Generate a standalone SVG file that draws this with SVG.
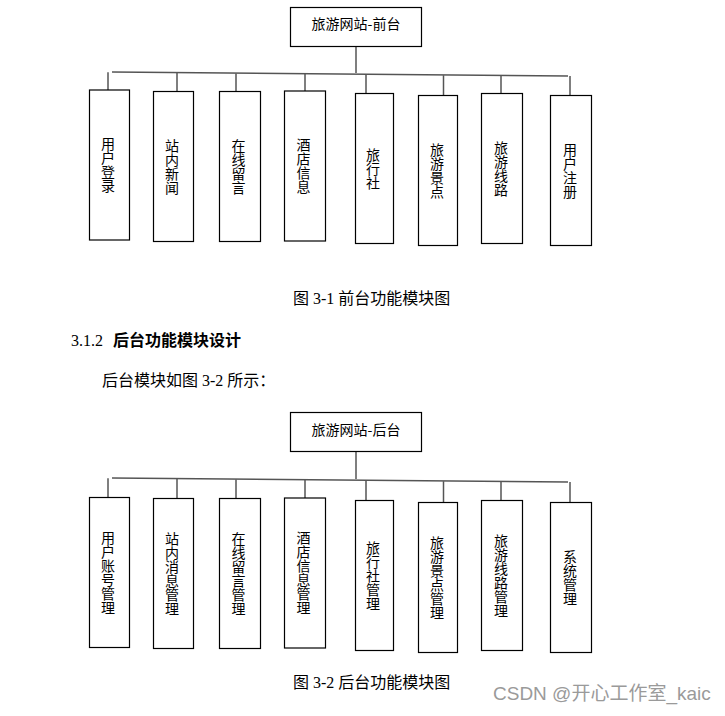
<svg xmlns="http://www.w3.org/2000/svg" width="725" height="716" viewBox="0 0 725 716">
<style>
  .box { fill: #fff; stroke: #000; stroke-width: 1.2; }
  .conn { stroke: #555; stroke-width: 1.5; fill: none; }
  .lbl { font-family: "Noto Sans CJK SC", "Liberation Sans", sans-serif; font-size: 14px; fill: #000; text-anchor: middle; }
  .vl { writing-mode: vertical-rl; }
  .cap { font-family: "Liberation Serif", "Noto Sans CJK SC", serif; font-size: 16px; fill: #000; }
  .wm { font-family: "Liberation Sans", "Noto Sans CJK SC", sans-serif; font-size: 19px; fill: #9a9a9a; }
</style>
<rect width="725" height="716" fill="#fff"/>

<!-- Diagram 1 connectors -->
<g id="connectors-1">
  <line class="conn" x1="356" y1="46.5" x2="356" y2="73"/>
  <line class="conn" x1="112" y1="72" x2="568" y2="76"/>
  <line class="conn" x1="108" y1="72.3" x2="108" y2="90"/>
  <line class="conn" x1="177" y1="72.9" x2="177" y2="91.5"/>
  <line class="conn" x1="236" y1="73.4" x2="236" y2="91.5"/>
  <line class="conn" x1="305" y1="74" x2="305" y2="91"/>
  <line class="conn" x1="366" y1="74.5" x2="366" y2="93.5"/>
  <line class="conn" x1="443.5" y1="75.2" x2="443.5" y2="95.5"/>
  <line class="conn" x1="501" y1="75.7" x2="501" y2="93.5"/>
  <line class="conn" x1="570" y1="76" x2="570" y2="95.5"/>
</g>

<g id="root-1">
  <rect class="box" x="290.5" y="7.5" width="131" height="39"/>
  <text class="lbl" x="356" y="29">旅游网站-前台</text>
</g>
<g id="n1-1"><rect class="box" x="89.5" y="90" width="40" height="150"/>
  <text class="lbl vl" x="108" y="165">用户登录</text></g>
<g id="n1-2"><rect class="box" x="153.5" y="91.5" width="40" height="150"/>
  <text class="lbl vl" x="172" y="166.5">站内新闻</text></g>
<g id="n1-3"><rect class="box" x="219.5" y="91.5" width="41" height="150"/>
  <text class="lbl vl" x="238.5" y="166.5">在线留言</text></g>
<g id="n1-4"><rect class="box" x="284.5" y="91" width="41" height="150"/>
  <text class="lbl vl" x="303.5" y="166">酒店信息</text></g>
<g id="n1-5"><rect class="box" x="355.5" y="93.5" width="38" height="150"/>
  <text class="lbl vl" x="373" y="168.5">旅行社</text></g>
<g id="n1-6"><rect class="box" x="418.5" y="95.5" width="39" height="150"/>
  <text class="lbl vl" x="437" y="170.5">旅游景点</text></g>
<g id="n1-7"><rect class="box" x="481.5" y="93.5" width="41" height="150"/>
  <text class="lbl vl" x="501" y="168.5">旅游线路</text></g>
<g id="n1-8"><rect class="box" x="550.5" y="95.5" width="41" height="150"/>
  <text class="lbl vl" x="570" y="170.5">用户注册</text></g>

<text class="cap" x="293" y="304">图 3-1 前台功能模块图</text>
<text class="cap" x="71" y="346">3.1.2<tspan x="113" font-weight="bold">后台功能模块设计</tspan></text>
<text class="cap" x="102" y="386">后台模块如图 3-2 所示：</text>

<!-- Diagram 2 connectors -->
<g id="connectors-2">
  <line class="conn" x1="356" y1="452" x2="356" y2="479"/>
  <line class="conn" x1="112" y1="478" x2="568" y2="482"/>
  <line class="conn" x1="108" y1="478.3" x2="108" y2="497.5"/>
  <line class="conn" x1="177" y1="478.9" x2="177" y2="498.5"/>
  <line class="conn" x1="236" y1="479.4" x2="236" y2="498.5"/>
  <line class="conn" x1="305" y1="480" x2="305" y2="498"/>
  <line class="conn" x1="366" y1="480.5" x2="366" y2="500.5"/>
  <line class="conn" x1="443.5" y1="481.2" x2="443.5" y2="502.5"/>
  <line class="conn" x1="501" y1="481.7" x2="501" y2="500.5"/>
  <line class="conn" x1="570" y1="482" x2="570" y2="502.5"/>
</g>

<g id="root-2">
  <rect class="box" x="290.5" y="412.5" width="131" height="39"/>
  <text class="lbl" x="356" y="434.5">旅游网站-后台</text>
</g>
<g id="n2-1"><rect class="box" x="89.5" y="497.5" width="40" height="150"/>
  <text class="lbl vl" x="108" y="572.5">用户账号管理</text></g>
<g id="n2-2"><rect class="box" x="153.5" y="498.5" width="40" height="150"/>
  <text class="lbl vl" x="172" y="573.5">站内消息管理</text></g>
<g id="n2-3"><rect class="box" x="219.5" y="498.5" width="41" height="150"/>
  <text class="lbl vl" x="238.5" y="573.5">在线留言管理</text></g>
<g id="n2-4"><rect class="box" x="284.5" y="498" width="41" height="150"/>
  <text class="lbl vl" x="303.5" y="573">酒店信息管理</text></g>
<g id="n2-5"><rect class="box" x="355.5" y="500.5" width="38" height="150"/>
  <text class="lbl vl" x="373" y="575.5">旅行社管理</text></g>
<g id="n2-6"><rect class="box" x="418.5" y="502.5" width="39" height="150"/>
  <text class="lbl vl" x="437" y="577.5">旅游景点管理</text></g>
<g id="n2-7"><rect class="box" x="481.5" y="500.5" width="41" height="150"/>
  <text class="lbl vl" x="501" y="575.5">旅游线路管理</text></g>
<g id="n2-8"><rect class="box" x="550.5" y="502.5" width="41" height="150"/>
  <text class="lbl vl" x="570" y="577.5">系统管理</text></g>

<text class="cap" x="293" y="688">图 3-2 后台功能模块图</text>
<text class="wm" x="493" y="700">CSDN @开心工作室_kaic</text>
</svg>
